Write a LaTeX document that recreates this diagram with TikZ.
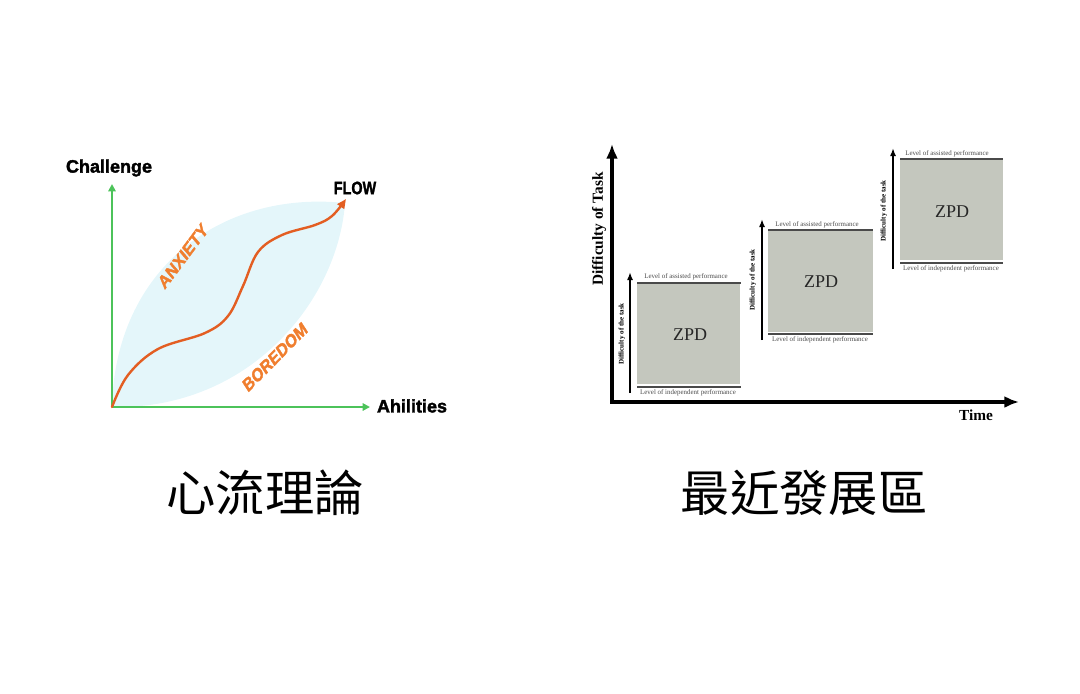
\documentclass[tikz,border=0pt]{standalone}
\usepackage{fontspec}
\setmainfont{Liberation Serif}
\newfontfamily\impactish[FakeBold=2]{Liberation Sans Bold}
\newfontfamily\cjk{Noto Sans CJK TC}
\usetikzlibrary{arrows.meta}
\definecolor{axisgreen}{HTML}{4CC35A}
\definecolor{curveorange}{HTML}{E35E22}
\definecolor{labelorange}{HTML}{F07E2E}
\definecolor{lensblue}{HTML}{E4F6FA}
\definecolor{zpdgray}{HTML}{C4C7BE}
\definecolor{leveldark}{HTML}{4A4A4A}
\tikzset{
  flowlabel/.style={font=\impactish\fontsize{13.5}{14}\selectfont, inner sep=0pt},
  zonelabel/.style={font=\impactish\fontsize{14}{15}\selectfont, text=labelorange, inner sep=0pt, xscale=0.8},
  greenaxis/.style={draw=axisgreen, line width=2pt, -{Triangle[length=5.5pt,width=5.5pt]}},
  blackaxis/.style={draw=black, line width=3pt, -{Latex[length=11pt,width=9pt]}},
  taskarrow/.style={draw=black, line width=1.5pt, -{Latex[length=6pt,width=4.5pt]}},
  zpdbox/.style={fill=zpdgray, draw=none},
  levelline/.style={draw=leveldark, line width=1.4pt},
  levellabel/.style={font=\fontsize{5.2}{6}\selectfont, text=leveldark, inner sep=0pt},
  tasklabel/.style={font=\bfseries\fontsize{5.3}{6}\selectfont, rotate=90, inner sep=0pt},
  zpdlabel/.style={font=\fontsize{13.5}{14}\selectfont, text=black!85, inner sep=0pt},
  biglabel/.style={font=\bfseries\fontsize{11.5}{12}\selectfont, inner sep=0pt},
  cjklabel/.style={font=\cjk\fontsize{37}{40}\selectfont, inner sep=0pt}
}
\begin{document}
\begin{tikzpicture}[x=0.75pt,y=-0.75pt]
\useasboundingbox (0,0) rectangle (1080,693);
% ---------- Flow theory chart ----------
\coordinate (fo) at (112,407);
\coordinate (fy) at (112,184);
\coordinate (fx) at (370,407);
\coordinate (ft) at (345,203);
\fill[lensblue] (fo) .. controls (115,270) and (220,190) .. (ft)
   .. controls (338,300) and (250,410) .. (fo) -- cycle;
\draw[greenaxis] (fo) -- (fy);
\draw[greenaxis] (fo) -- (fx);
\draw[curveorange, line width=1.8pt, line cap=round, -{Triangle[length=7pt,width=6pt]}]
  plot[smooth, tension=0.6] coordinates {(112,407) (128,375) (158,349) (205,333) (228,316) (243,286) (258,252) (282,235) (315,225) (332,216) (346,199)};
\node[flowlabel] (challenge) at (109,168) {Challenge};
\node[flowlabel, xscale=0.8] (flow) at (355,188) {FLOW};
\node[flowlabel] (abilities) at (412,406) {Ahilities};
\node[zonelabel, rotate=47] (anxiety) at (183,256) {ANXIETY};
\node[zonelabel, rotate=39] (boredom) at (275,357) {BOREDOM};
% ---------- ZPD chart ----------
\coordinate (zo) at (612,403);
\coordinate (zy) at (612,144);
\coordinate (zox) at (610,402);
\coordinate (zx) at (1019,402);
\draw[blackaxis] (zo) -- (zy);
\draw[blackaxis] (zox) -- (zx);
\node[biglabel, rotate=90] (dtask) at (599,229) {Difficulty of Task};
\node[biglabel] (time) at (976,415) {Time};
% box 1
\fill[zpdbox] (637,284) rectangle (740,384);
\draw[levelline] (637,283) -- (741,283);
\draw[levelline] (637,387) -- (741,387);
\coordinate (a1s) at (630,393);
\coordinate (a1e) at (630,272);
\draw[taskarrow] (a1s) -- (a1e);
\node[tasklabel] (t1) at (622,334) {Difficulty of the task};
\node[levellabel] (as1) at (686,277) {Level of assisted performance};
\node[levellabel] (in1) at (688,392.5) {Level of independent performance};
\node[zpdlabel] (z1) at (690,335) {ZPD};
% box 2
\fill[zpdbox] (768,231) rectangle (873,332);
\draw[levelline] (768,230) -- (873,230);
\draw[levelline] (768,334) -- (873,334);
\coordinate (a2s) at (762,340);
\coordinate (a2e) at (762,219);
\draw[taskarrow] (a2s) -- (a2e);
\node[tasklabel] (t2) at (753,280) {Difficulty of the task};
\node[levellabel] (as2) at (817,225) {Level of assisted performance};
\node[levellabel] (in2) at (820,339.5) {Level of independent performance};
\node[zpdlabel] (z2) at (821,282) {ZPD};
% box 3
\fill[zpdbox] (900,160) rectangle (1003,260);
\draw[levelline] (900,159) -- (1003,159);
\draw[levelline] (900,263) -- (1003,263);
\coordinate (a3s) at (893,269);
\coordinate (a3e) at (893,148);
\draw[taskarrow] (a3s) -- (a3e);
\node[tasklabel] (t3) at (884,211) {Difficulty of the task};
\node[levellabel] (as3) at (947,154) {Level of assisted performance};
\node[levellabel] (in3) at (951,268.5) {Level of independent performance};
\node[zpdlabel] (z3) at (952,212) {ZPD};
% ---------- captions ----------
\node[cjklabel] (cap1) at (265,493) {心流理論};
\node[cjklabel] (cap2) at (804,493) {最近發展區};
\end{tikzpicture}
\end{document}
